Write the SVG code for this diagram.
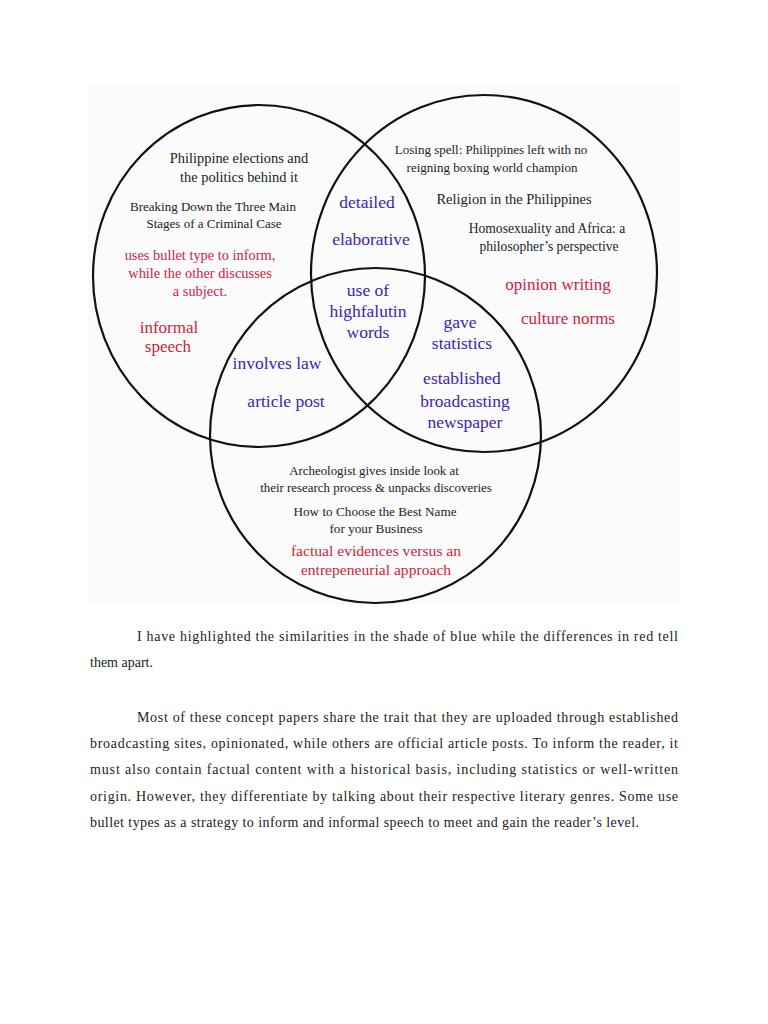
<svg xmlns="http://www.w3.org/2000/svg" width="768" height="1024" viewBox="0 0 768 1024">
<style>
.c{fill:none;stroke:#111;stroke-width:2.2}
text{font-family:"Liberation Serif","Times New Roman",serif;text-anchor:middle}
.k{fill:#222}
.b{fill:#3d24b2;font-size:17.5px}
.r{fill:#cf1d3e}
.p{fill:#222;font-size:14px;text-anchor:start}
</style>
<rect x="0" y="0" width="768" height="1024" fill="#fff"/>
<rect x="88" y="86" width="593" height="518" fill="#fbfbfb"/>
<g id="circles">
<ellipse id="circle-left" class="c" cx="259" cy="276" rx="166" ry="171"/>
<ellipse id="circle-right" class="c" cx="484" cy="273.5" rx="173" ry="178.5"/>
<ellipse id="circle-bottom" class="c" cx="375.5" cy="435.5" rx="165.5" ry="167.5"/>
</g>
<g id="left-only">
<text class="k" x="239" y="163" font-size="14.4">Philippine elections and</text>
<text class="k" x="239" y="182" font-size="14.4">the politics behind it</text>
<text class="k" x="213" y="211" font-size="13">Breaking Down the Three Main</text>
<text class="k" x="214" y="228" font-size="13">Stages of a Criminal Case</text>
<text class="r" x="200" y="260" font-size="14.4">uses bullet type to inform,</text>
<text class="r" x="200" y="278" font-size="14.4">while the other discusses</text>
<text class="r" x="200" y="296" font-size="14.4">a subject.</text>
<text class="r" x="169" y="333" font-size="17">informal</text>
<text class="r" x="168" y="352" font-size="17">speech</text>
</g>
<g id="right-only">
<text class="k" x="491" y="154" font-size="13">Losing spell: Philippines left with no</text>
<text class="k" x="492" y="172" font-size="13">reigning boxing world champion</text>
<text class="k" x="514" y="204" font-size="14.5">Religion in the Philippines</text>
<text class="k" x="547" y="233" font-size="13.6">Homosexuality and Africa: a</text>
<text class="k" x="549" y="251" font-size="13.6">philosopher’s perspective</text>
<text class="r" x="558" y="290" font-size="17">opinion writing</text>
<text class="r" x="568" y="324" font-size="17">culture norms</text>
</g>
<g id="left-right">
<text class="b" x="367" y="208">detailed</text>
<text class="b" x="371" y="245">elaborative</text>
</g>
<g id="all-three">
<text class="b" x="368" y="296">use of</text>
<text class="b" x="368" y="317">highfalutin</text>
<text class="b" x="368" y="338">words</text>
</g>
<g id="left-bottom">
<text class="b" x="277" y="369">involves law</text>
<text class="b" x="286" y="407">article post</text>
</g>
<g id="right-bottom">
<text class="b" x="460" y="328">gave</text>
<text class="b" x="462" y="349">statistics</text>
<text class="b" x="462" y="384">established</text>
<text class="b" x="465" y="407">broadcasting</text>
<text class="b" x="465" y="428">newspaper</text>
</g>
<g id="bottom-only">
<text class="k" x="374" y="475" font-size="12.9">Archeologist gives inside look at</text>
<text class="k" x="376" y="492" font-size="12.9">their research process &amp; unpacks discoveries</text>
<text class="k" x="375" y="516" font-size="13.2">How to Choose the Best Name</text>
<text class="k" x="376" y="533" font-size="13.2">for your Business</text>
<text class="r" x="376" y="556" font-size="15.6">factual evidences versus an</text>
<text class="r" x="376" y="575" font-size="15.6">entrepeneurial approach</text>
</g>
<g id="paragraphs">
<text class="p" x="137" y="641" textLength="541" lengthAdjust="spacing">I have highlighted the similarities in the shade of blue while the differences in red tell</text>
<text class="p" x="90" y="667">them apart.</text>
<text class="p" x="137" y="722" textLength="541" lengthAdjust="spacing">Most of these concept papers share the trait that they are uploaded through established</text>
<text class="p" x="90" y="748" textLength="588" lengthAdjust="spacing">broadcasting sites, opinionated, while others are official article posts. To inform the reader, it</text>
<text class="p" x="90" y="774" textLength="588" lengthAdjust="spacing">must also contain factual content with a historical basis, including statistics or well-written</text>
<text class="p" x="90" y="801" textLength="588" lengthAdjust="spacing">origin. However, they differentiate by talking about their respective literary genres. Some use</text>
<text class="p" x="90" y="827" textLength="549" lengthAdjust="spacing">bullet types as a strategy to inform and informal speech to meet and gain the reader’s level.</text>
</g>
</svg>
